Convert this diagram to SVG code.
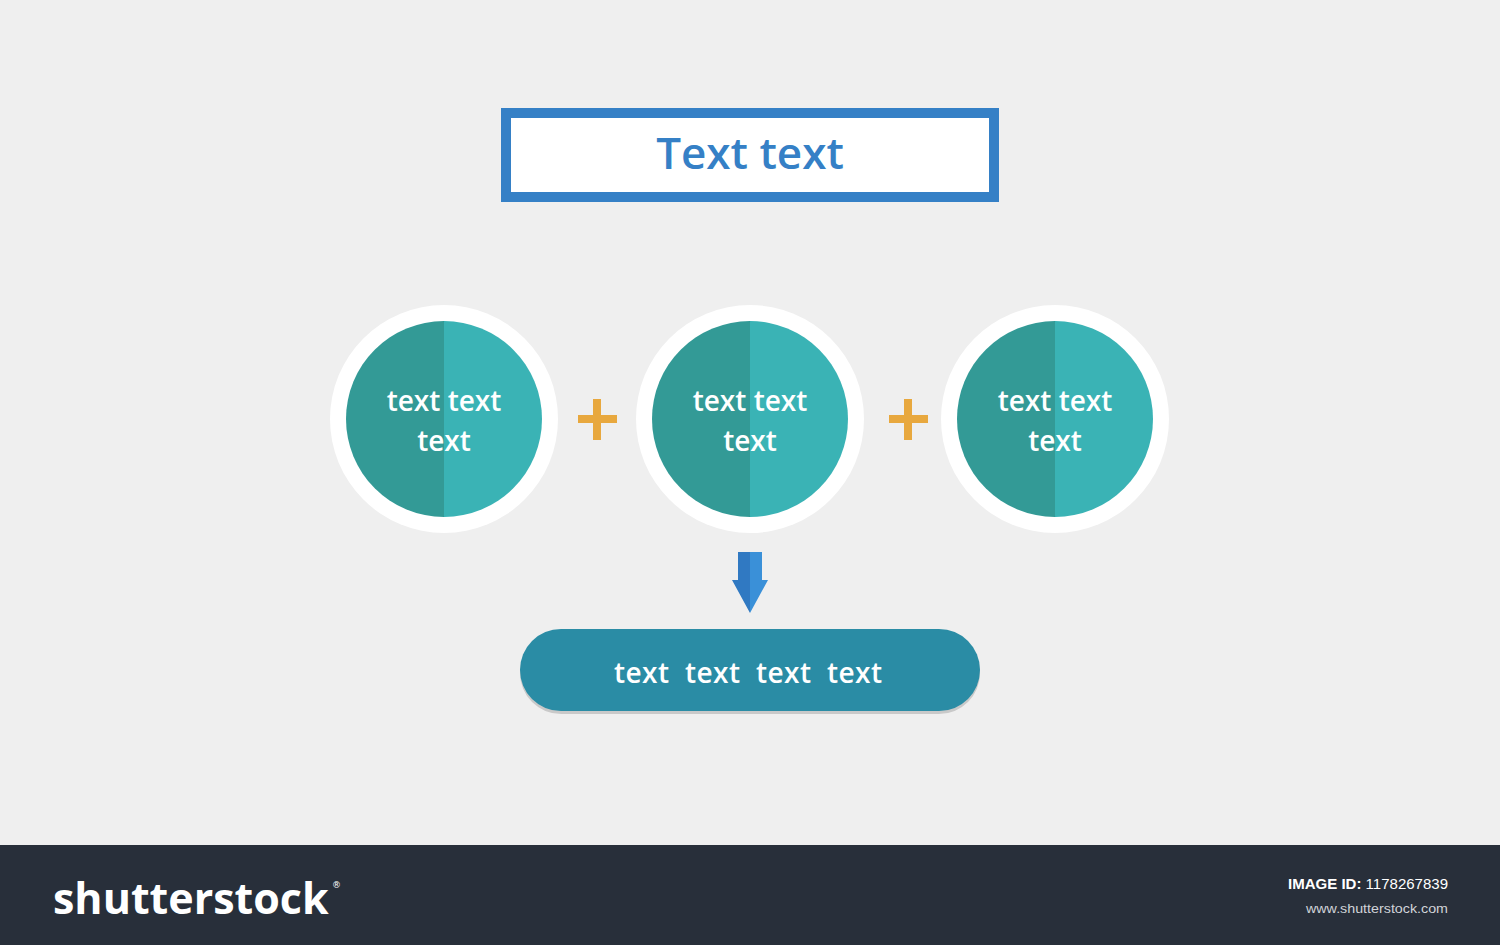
<svg xmlns="http://www.w3.org/2000/svg" width="1500" height="945" viewBox="0 0 1500 945">
<style>
.lbl{font-family:"Open Sans","Noto Sans",sans-serif;font-weight:600;fill:#ffffff;text-anchor:middle;font-size:28px}
.plus{fill:#e8a83e}
</style>
<defs>
<clipPath id="c1"><circle cx="444" cy="419" r="98"/></clipPath>
<clipPath id="c2"><circle cx="750" cy="419" r="98"/></clipPath>
<clipPath id="c3"><circle cx="1055" cy="419" r="98"/></clipPath>
</defs>
<rect width="1500" height="945" fill="#efefef"/>

<g id="title">
<rect x="506" y="113" width="488" height="84" fill="#ffffff" stroke="#3580c6" stroke-width="10"/>
<text x="750" y="169" font-family="Open Sans, Noto Sans, sans-serif" font-weight="600" font-size="44" fill="#3580c6" text-anchor="middle">Text text</text>
</g>

<g id="node1">
<circle cx="444" cy="419" r="114" fill="#ffffff"/>
<g clip-path="url(#c1)"><rect x="346" y="321" width="98" height="196" fill="#339a96"/><rect x="444" y="321" width="98" height="196" fill="#3ab3b5"/></g>
<text class="lbl" x="444" y="411">text text</text>
<text class="lbl" x="444" y="451">text</text>
</g>
<g id="node2">
<circle cx="750" cy="419" r="114" fill="#ffffff"/>
<g clip-path="url(#c2)"><rect x="652" y="321" width="98" height="196" fill="#339a96"/><rect x="750" y="321" width="98" height="196" fill="#3ab3b5"/></g>
<text class="lbl" x="750" y="411">text text</text>
<text class="lbl" x="750" y="451">text</text>
</g>
<g id="node3">
<circle cx="1055" cy="419" r="114" fill="#ffffff"/>
<g clip-path="url(#c3)"><rect x="957" y="321" width="98" height="196" fill="#339a96"/><rect x="1055" y="321" width="98" height="196" fill="#3ab3b5"/></g>
<text class="lbl" x="1055" y="411">text text</text>
<text class="lbl" x="1055" y="451">text</text>
</g>

<g id="connectors">
<g id="plus1"><rect class="plus" x="578" y="415" width="39" height="8"/><rect class="plus" x="593" y="399" width="8" height="41"/></g>
<g id="plus2"><rect class="plus" x="889" y="415" width="39" height="8"/><rect class="plus" x="904" y="399" width="8" height="41"/></g>
<g id="arrow">
<path d="M738 552 H750 V613 L732 580 H738 Z" fill="#3079c2"/>
<path d="M750 552 H762 V580 H768 L750 613 Z" fill="#3a90d8"/>
</g>
</g>

<g id="result">
<rect x="520" y="632" width="460" height="82" rx="41" fill="#c9c9c9"/>
<rect x="520" y="629" width="460" height="82" rx="41" fill="#2a8ca5"/>
<text class="lbl" x="748" y="683" xml:space="preserve" textLength="268">text  text  text  text</text>
</g>

<g id="footer">
<rect x="0" y="845" width="1500" height="100" fill="#282f3a"/>
<text x="53" y="914" font-family="Open Sans, sans-serif" font-weight="bold" font-size="43" fill="#ffffff">shutterstock</text>
<text x="332" y="888" font-family="DejaVu Sans, sans-serif" font-size="9" fill="#ffffff">®</text>
<text x="1448" y="889" font-family="Liberation Sans, sans-serif" font-size="15" fill="#ffffff" text-anchor="end" textLength="160" lengthAdjust="spacingAndGlyphs"><tspan font-weight="bold">IMAGE ID:</tspan> 1178267839</text>
<text x="1448" y="913" font-family="Liberation Sans, sans-serif" font-size="13" fill="#d0d3d8" text-anchor="end" textLength="142" lengthAdjust="spacingAndGlyphs">www.shutterstock.com</text>
</g>
</svg>
